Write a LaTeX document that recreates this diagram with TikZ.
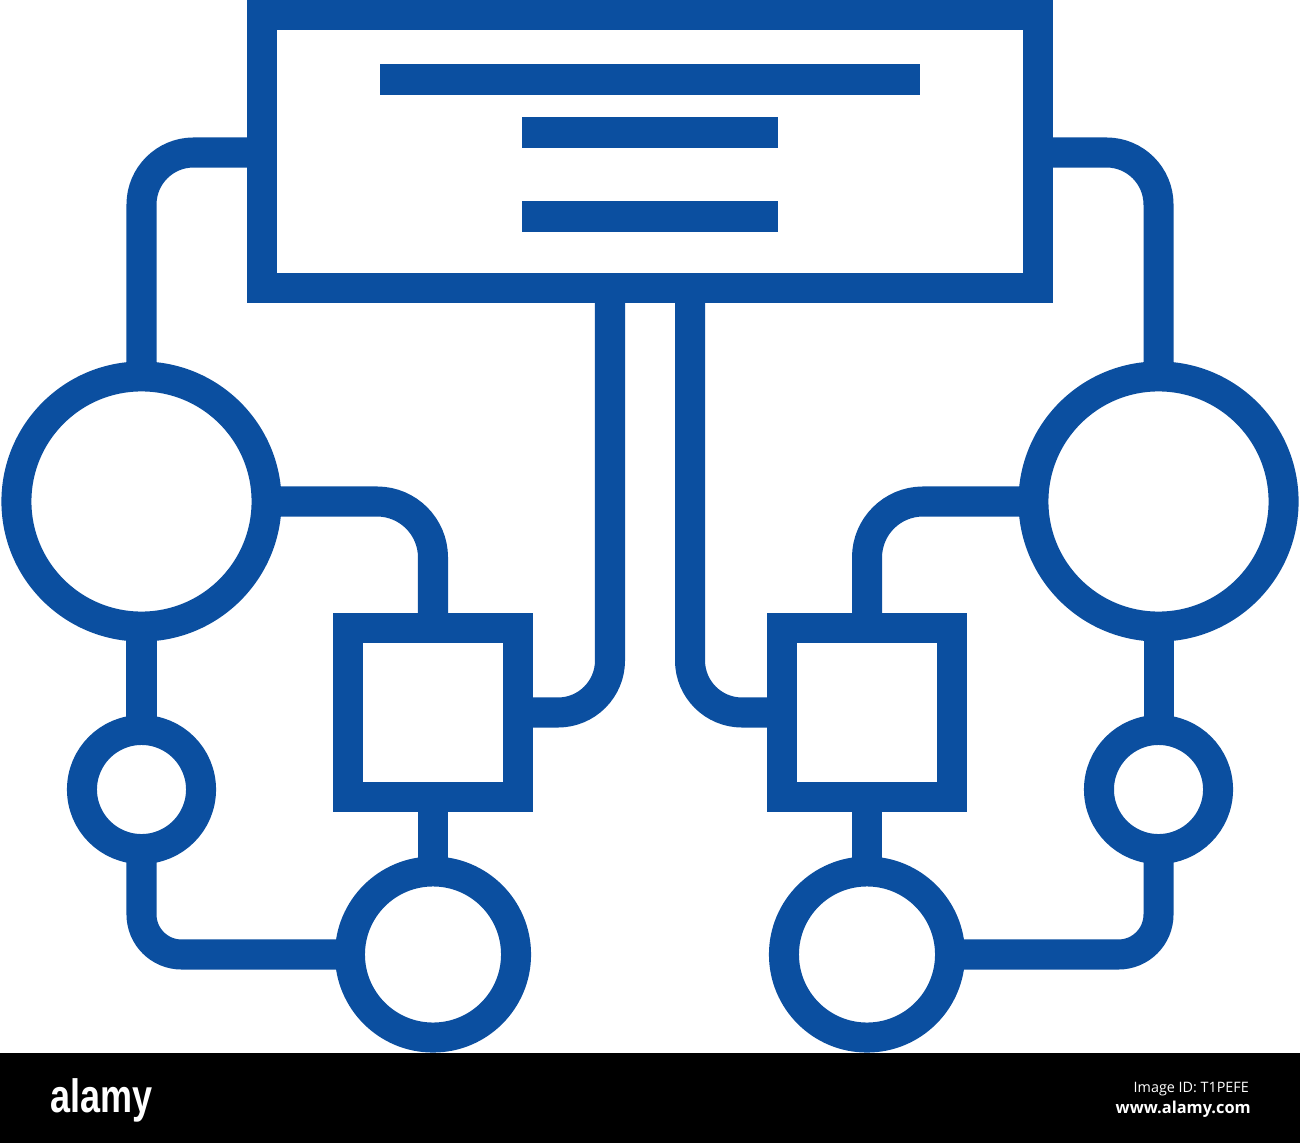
\documentclass[tikz,border=0pt]{standalone}
\usepackage{fontspec}
\usepackage{graphicx}
\setmainfont{Liberation Sans}
\newfontfamily\opensans{Open Sans}
\definecolor{iconblue}{HTML}{0B4FA0}
\tikzset{
  shp/.style={draw=iconblue, line width=0.3cm, inner sep=0pt, outer sep=0pt},
  ring/.style={shp, circle},
  box/.style={shp, rectangle},
  conn/.style={draw=iconblue, line width=0.3cm, line cap=butt},
  bar/.style={fill=iconblue},
}
\begin{document}
\begin{tikzpicture}[x=0.01cm, y=-0.01cm]
\useasboundingbox (0,0) rectangle (1300,1143);
\fill[white] (0,0) rectangle (1300,1143);

% top board
\node[box, minimum width=7.76cm, minimum height=2.73cm] (board) at (650,151.5) {};
\fill[bar] (380,64) rectangle (920,95);
\fill[bar] (522,117) rectangle (778,148);
\fill[bar] (522,201) rectangle (778,232);

% left side
\node[ring, minimum size=2.50cm] (bigL) at (141.5,501.5) {};
\node[ring, minimum size=1.19cm] (smL) at (141.5,789.5) {};
\node[ring, minimum size=1.66cm] (botL) at (433,954.5) {};
\node[box, minimum width=1.69cm, minimum height=1.69cm] (sqL) at (433,712.5) {};

% right side
\node[ring, minimum size=2.50cm] (bigR) at (1158.5,501.5) {};
\node[ring, minimum size=1.19cm] (smR) at (1158.5,789.5) {};
\node[ring, minimum size=1.66cm] (botR) at (867,954.5) {};
\node[box, minimum width=1.69cm, minimum height=1.69cm] (sqR) at (867,712.5) {};

\coordinate (hTop) at (0,152.5);
\coordinate (vL) at (610,0);
\coordinate (vR) at (690,0);

% connectors left
\draw[conn, rounded corners=0.52cm] (bigL.north) |- (board.west |- hTop);
\draw[conn, rounded corners=0.56cm] (bigL.east) -| (sqL.north);
\draw[conn] (sqL.south) -- (botL.north);
\draw[conn] (bigL.south) -- (smL.north);
\draw[conn, rounded corners=0.40cm] (smL.south) |- (botL.west);
\draw[conn, rounded corners=0.52cm] (vL |- board.south) |- (sqL.east);

% connectors right
\draw[conn, rounded corners=0.52cm] (bigR.north) |- (board.east |- hTop);
\draw[conn, rounded corners=0.56cm] (bigR.west) -| (sqR.north);
\draw[conn] (sqR.south) -- (botR.north);
\draw[conn] (bigR.south) -- (smR.north);
\draw[conn, rounded corners=0.40cm] (smR.south) |- (botR.east);
\draw[conn, rounded corners=0.52cm] (vR |- board.south) |- (sqR.west);

% bottom banner
\fill[black] (0,1053) rectangle (1300,1143);
\node[anchor=base west, inner sep=0pt, text=white] (logo) at (50,1112)
  {\scalebox{0.77}[1]{\fontsize{13.3}{14}\selectfont\bfseries alamy}};
\node[anchor=base west, inner sep=0pt, text=white] (imgid) at (1133,1092)
  {\resizebox{1.15cm}{!}{\opensans Image ID: T1PEFE}};
\node[anchor=base west, inner sep=0pt, text=white] (www) at (1115,1113)
  {\resizebox{1.35cm}{!}{\opensans\bfseries www.alamy.com}};
\end{tikzpicture}
\end{document}
